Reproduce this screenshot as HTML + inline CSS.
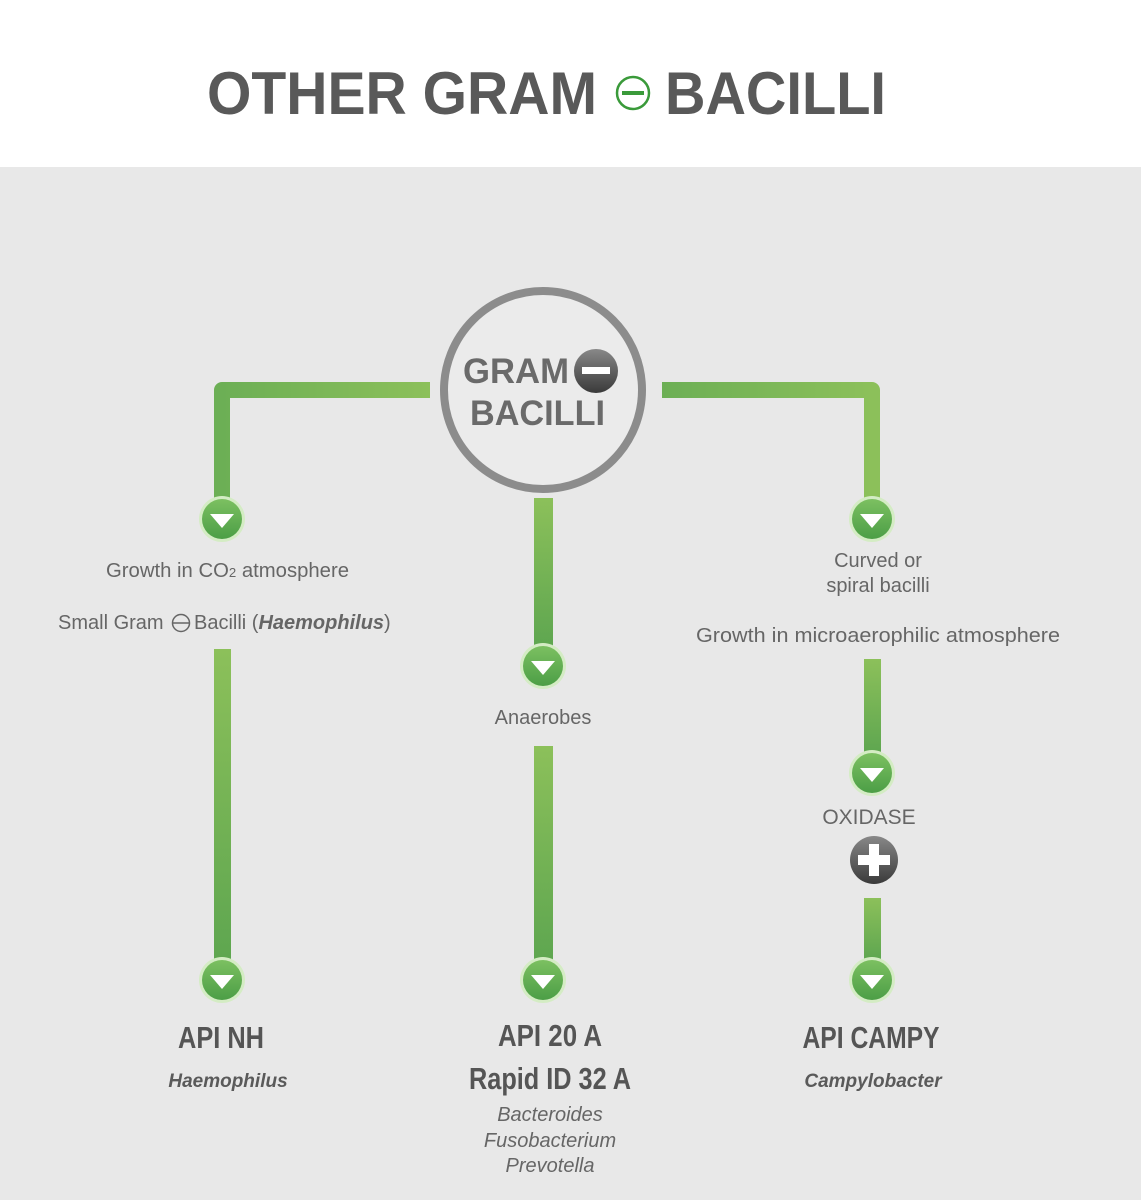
<!DOCTYPE html>
<html><head><meta charset="utf-8"><style>
html,body{margin:0;padding:0;background:#fff}
svg{display:block}
text{font-family:"Liberation Sans",sans-serif}
</style></head><body>
<svg width="1141" height="1200" viewBox="0 0 1141 1200" xmlns="http://www.w3.org/2000/svg">
<defs>
<linearGradient id="gv" x1="0" y1="0" x2="0" y2="1"><stop offset="0" stop-color="#8cc05a"/><stop offset="1" stop-color="#5ea650"/></linearGradient>
<linearGradient id="gh" x1="0" y1="0" x2="1" y2="0"><stop offset="0" stop-color="#6caf55"/><stop offset="1" stop-color="#8cc05a"/></linearGradient>
<linearGradient id="gc" x1="0" y1="0" x2="0" y2="1"><stop offset="0" stop-color="#7cc061"/><stop offset="1" stop-color="#4c9e46"/></linearGradient>
<linearGradient id="gd" x1="0" y1="0" x2="0" y2="1"><stop offset="0" stop-color="#888"/><stop offset="1" stop-color="#3a3a3a"/></linearGradient>
<g id="arr"><circle r="23" fill="#d4ecc4"/><circle r="20" fill="url(#gc)"/><path d="M-12,-5 L12,-5 L0,9 Z" fill="#fff"/></g>
</defs>
<rect x="0" y="0" width="1141" height="167" fill="#fff"/>
<rect x="0" y="167" width="1141" height="1033" fill="#e8e8e8"/>
<text x="207" y="114" font-size="60" font-weight="bold" fill="#595959" textLength="390" lengthAdjust="spacingAndGlyphs">OTHER GRAM</text>
<circle cx="633" cy="93" r="16" fill="none" stroke="#3a9a3a" stroke-width="2.5"/>
<rect x="622" y="91" width="22" height="4" fill="#3a9a3a"/>
<text x="665" y="114" font-size="60" font-weight="bold" fill="#595959" textLength="221" lengthAdjust="spacingAndGlyphs">BACILLI</text>

<!-- connectors -->
<path d="M430,390 L222,390 L222,500" fill="none" stroke="url(#gh)" stroke-width="16" stroke-linejoin="round"/>
<path d="M662,390 L872,390 L872,500" fill="none" stroke="url(#gh)" stroke-width="16" stroke-linejoin="round"/>
<rect x="534" y="498" width="19" height="150" fill="url(#gv)"/>
<rect x="214" y="649" width="17" height="312" fill="url(#gv)"/>
<rect x="534" y="746" width="19" height="215" fill="url(#gv)"/>
<rect x="864" y="659" width="17" height="95" fill="url(#gv)"/>
<rect x="864" y="898" width="17" height="62" fill="url(#gv)"/>

<circle cx="543" cy="390" r="99" fill="#ebebeb" stroke="#8c8c8c" stroke-width="8"/>
<text x="463" y="383" font-size="35" font-weight="bold" fill="#6a6a6a" textLength="106" lengthAdjust="spacingAndGlyphs">GRAM</text>
<circle cx="596" cy="371" r="22" fill="url(#gd)"/>
<rect x="582" y="367" width="28" height="7" fill="#fff"/>
<text x="470" y="425" font-size="35" font-weight="bold" fill="#6a6a6a" textLength="135" lengthAdjust="spacingAndGlyphs">BACILLI</text>

<use href="#arr" x="222" y="519"/>
<use href="#arr" x="872" y="519"/>
<use href="#arr" x="543" y="666"/>
<use href="#arr" x="872" y="773"/>
<use href="#arr" x="222" y="980"/>
<use href="#arr" x="543" y="980"/>
<use href="#arr" x="872" y="980"/>
<circle cx="874" cy="860" r="24" fill="url(#gd)"/>
<rect x="869" y="844" width="10" height="32" fill="#fff"/>
<rect x="858" y="855" width="32" height="10" fill="#fff"/>

<g font-size="20" fill="#666">
<text x="106" y="577" textLength="243" lengthAdjust="spacingAndGlyphs">Growth in CO<tspan font-size="13">2</tspan> atmosphere</text>
<text x="58" y="629">Small Gram</text>
<circle cx="181" cy="623" r="8.5" fill="none" stroke="#666" stroke-width="1.5"/>
<line x1="173" y1="623" x2="189" y2="623" stroke="#666" stroke-width="1.5"/>
<text x="194" y="629">Bacilli (<tspan font-style="italic" font-weight="bold">Haemophilus</tspan>)</text>
<text x="543" y="724" text-anchor="middle">Anaerobes</text>
<text x="878" y="567" text-anchor="middle">Curved or</text>
<text x="878" y="592" text-anchor="middle">spiral bacilli</text>
<text x="878" y="642" text-anchor="middle" textLength="364" lengthAdjust="spacingAndGlyphs">Growth in microaerophilic atmosphere</text>
<text x="869" y="824" text-anchor="middle" font-size="21">OXIDASE</text>
</g>

<g font-weight="bold" fill="#555" font-size="31" text-anchor="middle">
<text x="221" y="1048" textLength="86" lengthAdjust="spacingAndGlyphs">API NH</text>
<text x="550" y="1046" textLength="104" lengthAdjust="spacingAndGlyphs">API 20 A</text>
<text x="550" y="1089" textLength="162" lengthAdjust="spacingAndGlyphs">Rapid ID 32 A</text>
<text x="871" y="1048" textLength="137" lengthAdjust="spacingAndGlyphs">API CAMPY</text>
</g>
<g font-style="italic" fill="#666" font-size="20" text-anchor="middle">
<text x="228" y="1087" font-weight="bold" fill="#5a5a5a" font-size="19">Haemophilus</text>
<text x="550" y="1121">Bacteroides</text>
<text x="550" y="1147">Fusobacterium</text>
<text x="550" y="1172">Prevotella</text>
<text x="873" y="1087" font-weight="bold" fill="#5a5a5a" font-size="19">Campylobacter</text>
</g>
</svg>
</body></html>
